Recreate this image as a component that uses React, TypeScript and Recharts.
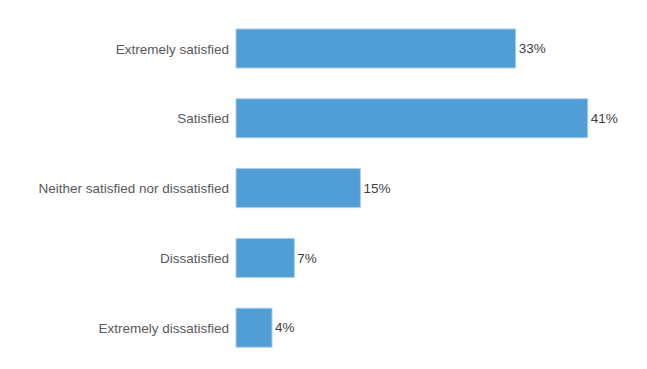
import { BarChart, Bar, XAxis, YAxis, LabelList } from 'recharts'

const categories = [
  'Extremely satisfied',
  'Satisfied',
  'Neither satisfied nor dissatisfied',
  'Dissatisfied',
  'Extremely dissatisfied',
]
const shares = [32.6, 41.0, 14.5, 6.8, 4.2]

const data = categories.map((name, i) => ({ name, value: shares[i] }))

const font = '"Liberation Sans", Arial, sans-serif'

export default function App() {
  return (
    <div style={{ position: 'absolute', left: 0, top: 0, background: '#fff' }}>
      <BarChart
        width={647}
        height={369}
        data={data}
        layout="vertical"
        margin={{ top: 14, right: 25, bottom: 6, left: 0 }}
        barSize={39}
      >
        <XAxis type="number" domain={[0, 45]} hide />
        <YAxis
          type="category"
          dataKey="name"
          width={236}
          axisLine={false}
          tickLine={false}
          tickSize={6}
          tickMargin={1}
          tick={{ fill: '#595959', fontSize: 13.5, fontFamily: font }}
        />
        <Bar dataKey="value" fill="#519dd6" stroke="#a9cdea" strokeWidth={1} isAnimationActive={false}>
          <LabelList
            dataKey="value"
            position="right"
            offset={3}
            formatter={(v: number) => `${Math.round(v)}%`}
            style={{ fill: '#404040', fontSize: 13.5, fontFamily: font }}
          />
        </Bar>
      </BarChart>
    </div>
  )
}
